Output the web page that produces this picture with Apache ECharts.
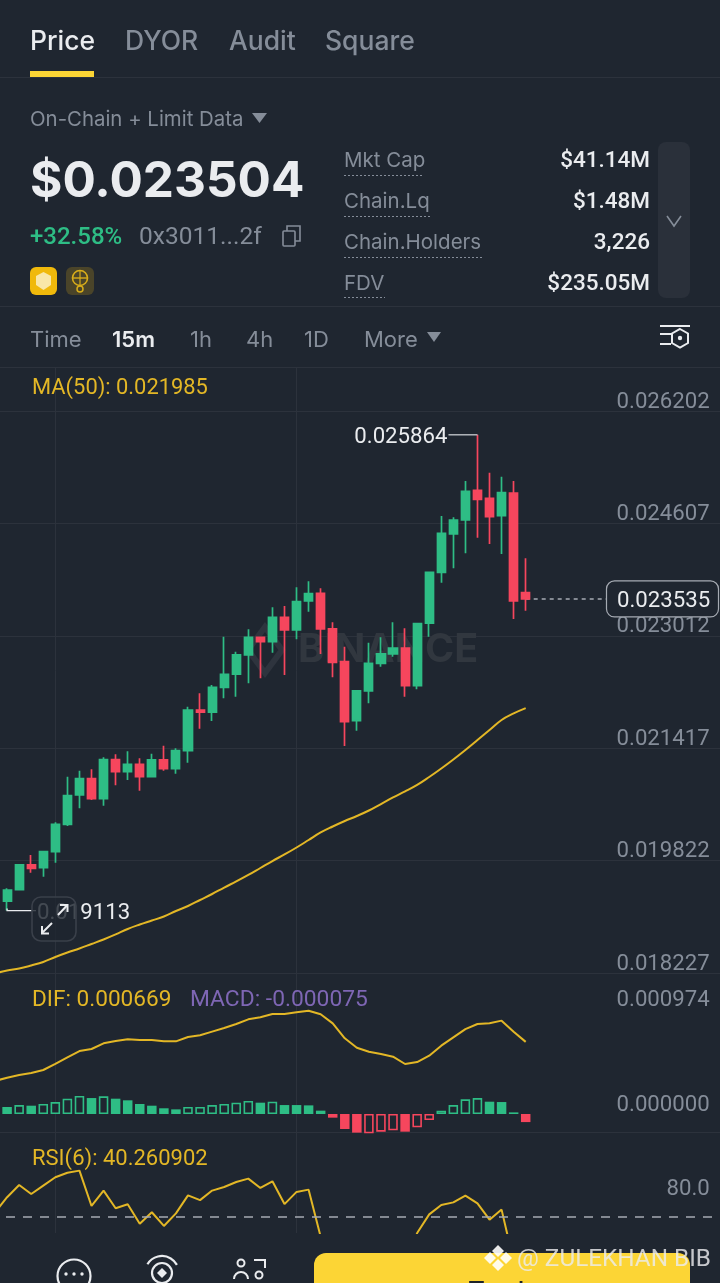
<!DOCTYPE html>
<html><head><meta charset="utf-8">
<script src="https://cdn.jsdelivr.net/npm/echarts@6/dist/echarts.min.js"></script>
<style>html,body{margin:0;padding:0;background:#1f2630}#c{width:720px;height:1283px}</style>
</head><body><div id="c"></div>
<script>
// ---------- data (index 0 is the bar just left of the visible window) ----------
const opens =[0.019245,0.019409,0.019760,0.019721,0.019949,0.020337,0.020753,0.020984,0.020701,0.021254,0.021084,0.021189,0.021013,0.021250,0.021126,0.021382,0.021959,0.021927,0.022281,0.022466,0.022740,0.022991,0.022928,0.023275,0.023094,0.023506,0.023615,0.023109,0.022645,0.021807,0.022229,0.022622,0.022754,0.022839,0.022304,0.023190,0.023913,0.024457,0.024655,0.025077,0.024963,0.024716,0.025038,0.023624];
const closes=[0.019405,0.019760,0.019713,0.019949,0.020337,0.020743,0.020984,0.020701,0.021254,0.021084,0.021189,0.021013,0.021250,0.021126,0.021382,0.021959,0.021927,0.022281,0.022466,0.022740,0.022991,0.022928,0.023275,0.023094,0.023496,0.023610,0.023109,0.022636,0.021793,0.022229,0.022622,0.022754,0.022839,0.022304,0.023184,0.023913,0.024467,0.024655,0.025063,0.024949,0.024702,0.025043,0.023506,0.023535];
const lows  =[0.019113,0.019405,0.019650,0.019594,0.019792,0.020313,0.020564,0.020682,0.020601,0.020891,0.020966,0.020814,0.021008,0.021098,0.021055,0.021211,0.021694,0.021803,0.022125,0.022148,0.022338,0.022409,0.022772,0.022456,0.022962,0.023354,0.022754,0.022423,0.021448,0.021665,0.022054,0.022574,0.022716,0.022148,0.022253,0.022999,0.023766,0.023970,0.024183,0.024404,0.024315,0.024173,0.023250,0.023368];
const highs =[0.019429,0.019774,0.019902,0.019955,0.020366,0.021013,0.021098,0.021118,0.021288,0.021331,0.021373,0.021274,0.021339,0.021453,0.021416,0.022006,0.022196,0.022314,0.022999,0.022786,0.023104,0.023000,0.023416,0.023435,0.023700,0.023785,0.023686,0.023204,0.022857,0.022243,0.022914,0.022991,0.023204,0.023118,0.023190,0.023918,0.024712,0.024694,0.025209,0.025864,0.025326,0.025270,0.025209,0.024112];
const ma50  =[0.018220,0.018263,0.018291,0.018334,0.018383,0.018454,0.018518,0.018575,0.018639,0.018703,0.018774,0.018852,0.018915,0.018972,0.019029,0.019107,0.019178,0.019263,0.019348,0.019440,0.019526,0.019618,0.019717,0.019816,0.019909,0.020008,0.020114,0.020221,0.020306,0.020384,0.020455,0.020533,0.020625,0.020718,0.020803,0.020895,0.021008,0.021129,0.021257,0.021392,0.021533,0.021675,0.021817,0.021910,0.021985];
const dif   =[0.000306,0.000337,0.000362,0.000380,0.000408,0.000464,0.000526,0.000584,0.000603,0.000656,0.000677,0.000693,0.000686,0.000686,0.000674,0.000674,0.000714,0.000730,0.000764,0.000798,0.000835,0.000878,0.000897,0.000928,0.000928,0.000943,0.000958,0.000925,0.000841,0.000702,0.000615,0.000578,0.000557,0.000532,0.000464,0.000482,0.000541,0.000634,0.000711,0.000788,0.000835,0.000841,0.000866,0.000764,0.000669];
const macdHist=[0.000065,0.000083,0.000077,0.000093,0.000111,0.000142,0.000167,0.000148,0.000164,0.000142,0.000127,0.000093,0.000077,0.000053,0.000043,0.000065,0.000065,0.000083,0.000093,0.000105,0.000121,0.000105,0.000114,0.000083,0.000083,0.000080,0.000031,-0.000034,-0.000139,-0.000173,-0.000179,-0.000164,-0.000151,-0.000164,-0.000124,-0.000056,0.000031,0.000083,0.000136,0.000148,0.000114,0.000111,0.000015,-0.000075];
const histHollow=[0,1,0,1,1,1,1,0,1,0,0,0,0,0,0,1,1,1,1,1,1,0,1,0,0,0,0,0,0,0,1,1,1,0,1,1,1,1,1,1,0,0,0,0];
const rsi6  =[72.5,80.4,86.8,82.1,86.5,90.9,93.3,94.4,75.8,83.9,74.6,76.7,66.5,72.5,65.3,71.9,81.4,78.9,83.9,85.8,88.4,90.2,85.3,88.8,76.8,83.2,84.4,59.6,40,30,45,52,53,55,45,61.6,71.4,76.3,77.7,81.2,77.2,68.6,73.9,46.7,40.26];
const priceTicks=[0.018227,0.019822,0.021417,0.023012,0.024607,0.026202];
const macdTicks=[0,0.000974];
const rsiTicks=[80];
const rsiGuide=70;
const lastPrice=0.023535;
const tabs=['Price','DYOR','Audit','Square'];
const periods=['Time','15m','1h','4h','1D','More'];
const stats=[['Mkt Cap','$41.14M'],['Chain.Lq','$1.48M'],['Chain.Holders','3,226'],['FDV','$235.05M']];
// -------------------------------------------------------------------------------
const BG='#1f2630',GRID='#2c323c',UP='#2ebd85',DOWN='#f6465d',YEL='#e3b726',GRAY='#858d99',WHITE='#eaecef';
const FONT='Inter, "Noto Sans", sans-serif';
const NUM='Roboto, "Noto Sans", sans-serif';
const SLOTS=61;
const cats=Array.from({length:SLOTS},(_,i)=>String(i));
const pad=(arr,lead)=>{const out=new Array(SLOTS).fill('-');arr.forEach((v,i)=>{out[i+lead]=v});return out};
const candles=pad(opens.map((o,i)=>[o,closes[i],lows[i],highs[i]]),1).map(v=>v==='-'?['-','-','-','-']:v);
const histData=pad(macdHist.map((v,i)=>{
  const c=v>=0?UP:DOWN;
  return {value:v,itemStyle:histHollow[i]?{color:BG,borderColor:c,borderWidth:1.6}:{color:c}};
}),1);
const lastLine=new Array(SLOTS).fill('-');
for(let i=44;i<=51;i++)lastLine[i]=lastPrice;

const xBase=(g)=>({type:'category',gridIndex:g,data:cats,boundaryGap:true,
  axisLine:{show:false},axisTick:{show:false},axisLabel:{show:false},
  splitLine:{show:true,alignWithLabel:true,interval:(i)=>i===5||i===25,lineStyle:{color:GRID,width:1}}});
const yBase=(g,min,max,ticks,labels,showSplit)=>({type:'value',gridIndex:g,position:'right',min,max,scale:true,
  axisLine:{show:false},axisTick:{show:false,customValues:ticks},
  axisLabel:{inside:true,customValues:labels,margin:15,color:GRAY,fontFamily:NUM,fontSize:22.2,verticalAlign:'bottom',
    lineHeight:18,formatter:(v)=>g===2?v.toFixed(1):v.toFixed(6)},
  splitLine:{show:showSplit,lineStyle:{color:GRID,width:1}}});

const gridOf=(top,height)=>({left:-11,width:735.7,top,height,outerBoundsMode:'none'});
const option={
  backgroundColor:BG,animation:false,
  grid:[gridOf(368,605),gridOf(973,159),gridOf(1132,101)],
  xAxis:[xBase(0),xBase(1),xBase(2)],
  yAxis:[
    yBase(0,0.018227,0.026812,priceTicks,priceTicks,true),
    yBase(1,-0.000167,0.001308,[-0.000167],macdTicks,true),
    yBase(2,61.6,114.7,[114.7],rsiTicks,false)
  ],
  series:[
    {type:'candlestick',name:'Price',xAxisIndex:0,yAxisIndex:0,data:candles,barWidth:8.6,z:3,clip:false,
     itemStyle:{color:UP,color0:DOWN,borderColor:UP,borderColor0:DOWN,borderWidth:1.7}},
    {type:'line',name:'MA(50)',xAxisIndex:0,yAxisIndex:0,data:pad(ma50,0),showSymbol:false,z:4,smooth:0.4,
     lineStyle:{color:YEL,width:2}},
    {type:'line',name:'Last',xAxisIndex:0,yAxisIndex:0,data:lastLine,showSymbol:false,z:2,
     lineStyle:{color:'#a6abb3',width:1.4,type:[4,4]}},
    {type:'bar',name:'MACD',xAxisIndex:1,yAxisIndex:1,data:histData,barWidth:9.5,clip:false,z:3},
    {type:'line',name:'DIF',xAxisIndex:1,yAxisIndex:1,data:pad(dif,0),showSymbol:false,z:4,
     lineStyle:{color:YEL,width:2}},
    {type:'line',name:'RSI(6)',xAxisIndex:2,yAxisIndex:2,data:pad(rsi6,0),showSymbol:false,z:4,
     lineStyle:{color:YEL,width:2},
     markLine:{silent:true,symbol:'none',label:{show:false},lineStyle:{color:'#a6abb3',width:1.5,type:[9,8]},data:[{yAxis:rsiGuide}]}}
  ]
};
const chart=echarts.init(document.getElementById('c'),null,{renderer:'canvas'});
chart.setOption(option);

const T=(x,y,text,size,fill,weight,align,z,fam)=>({type:'text',x,y:y+2,z:z||20,style:{text,fill,font:`${weight||400} ${size}px ${fam||FONT}`,textAlign:align||'left',textVerticalAlign:'middle'}});
const R=(x,y,w,h,fill,r,stroke,z,lw)=>({type:'rect',z:z||20,shape:{x,y,width:w,height:h,r:r||0},style:{fill,stroke:stroke||null,lineWidth:lw||1}});
const L=(x1,y1,x2,y2,stroke,lw,dash,z)=>({type:'line',z:z||20,shape:{x1,y1,x2,y2},style:{stroke,lineWidth:lw||1,lineDash:dash||null}});
const P=(pts,fill,stroke,lw,z)=>({type:'polygon',z:z||20,shape:{points:pts},style:{fill:fill||null,stroke:stroke||null,lineWidth:lw||1}});
const PL=(pts,stroke,lw,z)=>({type:'polyline',z:z||20,shape:{points:pts},style:{fill:null,stroke,lineWidth:lw||2}});
const C=(cx,cy,r,fill,stroke,lw,z)=>({type:'circle',z:z||20,shape:{cx,cy,r},style:{fill:fill||null,stroke:stroke||null,lineWidth:lw||1}});

const px=(idx,val)=>chart.convertToPixel({xAxisIndex:0,yAxisIndex:0},[idx,val]);
const hi=px(40,highs[39]), lo=px(1,lows[0]), lastP=px(44,lastPrice);

const els=[];
// tabs
const tabX=[30,125,229,325];
tabs.forEach((t,i)=>els.push(T(tabX[i],40,t,26.5,i===0?WHITE:GRAY,500)));
els.push(R(30,71,64,6,'#fcd535'),L(0,77.5,720,77.5,GRID,1));
// price head
els.push(T(30,118,'On-Chain + Limit Data',20.4,GRAY),P([[252,113],[267,113],[259.5,123]],GRAY));
els.push(T(30,180,'$0.023504',49.5,WHITE,700));
els.push(T(30,236,'+32.58%',24,UP,500,'left',20,NUM),T(139,236,'0x3011...2f',24.5,GRAY,400,'left',20,NUM));
els.push(R(283,231,12,15,null,1,GRAY,20,1.6),PL([[287,231],[287,226],[300,226],[300,241],[295,241]],GRAY,1.6));
els.push(R(30,267,27,28,'#f0b90b',6),P([[43.5,272],[51,276],[51,285],[43.5,290],[36,285],[36,276]],'#f9e7a8'));
els.push(R(66,267,28,28,'#4a4429',6),C(80,278,7.5,null,'#d8ad1a',1.6),L(72.5,278,87.5,278,'#d8ad1a',1.4),L(80,270.5,80,285.5,'#d8ad1a',1.2),C(80,289,3,null,'#d8ad1a',1.5));
// stats
const statY=[159,200,241,282],ulEnd=[424,430,482,385],ulY=[175,216,257,297];
stats.forEach((s,i)=>{
  els.push(T(344,statY[i],s[0],20.5,GRAY),T(650,statY[i],s[1],22.5,WHITE,500,'right',20,NUM),L(344,ulY[i]+.5,ulEnd[i],ulY[i]+.5,GRAY,1,[2,2]));
});
els.push(R(658,142,32,156,'#2a303a',8),PL([[667,216],[674,226],[681,216]],GRAY,1.6));
els.push(L(0,306.5,720,306.5,GRID,1));
// periods
const perX=[30,112,190,246,304,364];
periods.forEach((t,i)=>els.push(T(perX[i],338,t,22,i===1?WHITE:GRAY,i===1?600:400)));
els.push(P([[427,332],[441,332],[434,342]],GRAY));
els.push(L(660,326,690,326,WHITE,2),L(660,334,671,334,WHITE,2),L(660,344,671,344,WHITE,2),
  P([[680,329],[688,333.5],[688,343],[680,347.5],[672,343],[672,333.5]],null,WHITE,2),C(680,338,2.2,WHITE));
els.push(L(0,367.5,720,367.5,GRID,1));
// watermark (below the marks)
els.push(P([[265,627],[282,650],[265,673],[248,650]],null,'#2e343e',6,1),T(298,648,'BINANCE',39.5,'#31373f',700,'left',1));
// legends
els.push(T(32,387,'MA(50): 0.021985',21.9,YEL,400,'left',20,NUM));
els.push(T(32,998,'DIF: 0.000669',22.6,YEL,400,'left',20,NUM),T(190,998,'MACD: -0.000075',22.8,'#7e66b4',400,'left',20,NUM));
els.push(T(32,1157,'RSI(6): 40.260902',22,YEL,400,'left',20,NUM));
// high/low annotations
els.push(L(hi[0],hi[1],hi[0]-29,hi[1],'#c9ccd1',1.3),T(hi[0]-30,hi[1]+1,highs[39].toFixed(6),22.2,WHITE,400,'right',20,NUM));
els.push(PL([[lo[0],lo[1]-2],[lo[0],lo[1]],[36,lo[1]]],WHITE,1.3),T(37,lo[1]+1,lows[0].toFixed(6),22.2,WHITE,400,'left',20,NUM));
// expand button
els.push(R(32,897,44,44,'rgba(31,38,48,0.82)',9,'#3a404a',30,1.6));
els.push(PL([[58,915],[67,905.5]],WHITE,2,31),PL([[60,905],[67.5,905],[67.5,912]],WHITE,2,31),PL([[52,923],[42,933]],WHITE,2,31),PL([[42,926],[42,933.5],[49,933.5]],WHITE,2,31));
// last price tag
els.push(R(606.5,lastP[1]-18,112,36,BG,8,'#a6abb3',30,1.2),T(617,lastP[1]+.5,lastPrice.toFixed(6),22.2,WHITE,400,'left',31,NUM));
// bottom nav
els.push(C(74,1276,16.5,null,WHITE,2.2),C(66,1274,1.7,WHITE),C(74,1274,1.7,WHITE),C(82,1274,1.7,WHITE));
els.push(C(162,1273,10,null,WHITE,2.2),P([[162,1268],[167,1273],[162,1278],[157,1273]],WHITE),
  {type:'arc',z:20,shape:{cx:162,cy:1273,r:17,startAngle:-2.6,endAngle:-0.5},style:{stroke:WHITE,fill:null,lineWidth:2.2}});
els.push(C(241,1263,3.5,null,WHITE,2),PL([[254,1260],[265,1260],[265,1268]],WHITE,2),{type:'arc',z:20,shape:{cx:241,cy:1279,r:7,startAngle:-3.14,endAngle:0},style:{stroke:WHITE,fill:null,lineWidth:2}},C(259,1275,3.5,null,WHITE,2));
els.push(R(314,1253,376,60,'#fcd535',12),T(468,1290,'Trade',26,'#1e2329',500));
// overlay credit
els.push(P([[498,1245],[504,1251],[498,1257],[492,1251]],'rgba(255,255,255,.9)',null,1,40),
  P([[498,1259],[504,1265],[498,1271],[492,1265]],'rgba(255,255,255,.9)',null,1,40),
  P([[490,1252],[496,1258],[490,1264],[484,1258]],'rgba(255,255,255,.9)',null,1,40),
  P([[506,1252],[512,1258],[506,1264],[500,1258]],'rgba(255,255,255,.9)',null,1,40));
els.push(T(517,1258,'@ ZULEKHAN BIB',24.3,'rgba(235,236,238,.82)',400,'left',40,NUM));

chart.setOption({graphic:{elements:els}});
</script></body></html>
